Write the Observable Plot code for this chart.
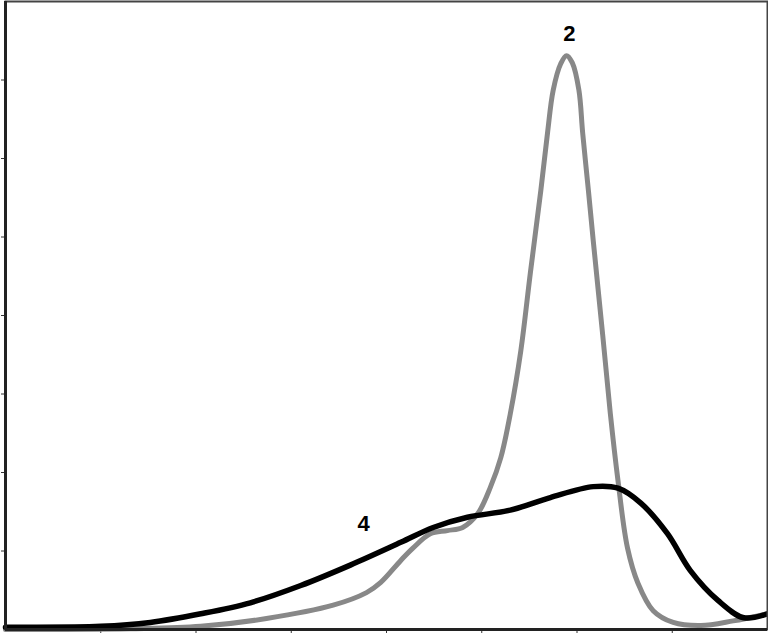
<!DOCTYPE html>
<html>
<head>
<meta charset="utf-8">
<script src="https://cdn.jsdelivr.net/npm/d3@7"></script>
<script src="https://cdn.jsdelivr.net/npm/@observablehq/plot@0.6"></script>
<style>
  html, body { margin: 0; padding: 0; background: #fff; }
  #chart { width: 768px; height: 633px; }
</style>
</head>
<body>
<div id="chart"></div>
<script>
// Series 2 (gray)
const x2 = [0, 1.31, 2.05, 2.74, 3.44, 3.79, 3.94, 4.15, 4.28, 4.46, 4.64, 4.80, 4.96, 5.09, 5.20, 5.30, 5.41, 5.51, 5.62, 5.69, 5.75, 5.83, 5.89, 5.95, 6.02, 6.06, 6.12, 6.17, 6.27, 6.35, 6.43, 6.53, 6.64, 6.80, 7.01, 7.30, 7.64, 8.0];
const y2 = [0.0, 0.01, 0.04, 0.14, 0.31, 0.47, 0.60, 0.88, 1.04, 1.22, 1.26, 1.30, 1.48, 1.81, 2.19, 2.75, 3.55, 4.54, 5.59, 6.32, 6.87, 7.21, 7.31, 7.22, 6.87, 6.32, 5.59, 4.96, 3.75, 2.75, 1.90, 1.04, 0.59, 0.24, 0.09, 0.05, 0.11, 0.20];
// Series 4 (black)
const x4 = [0, 1.0, 1.52, 2.05, 2.57, 3.10, 3.62, 4.15, 4.49, 4.85, 5.30, 5.72, 6.17, 6.43, 6.67, 6.95, 7.19, 7.48, 7.75, 8.0];
const y4 = [0.03, 0.04, 0.09, 0.20, 0.34, 0.56, 0.82, 1.11, 1.30, 1.43, 1.52, 1.68, 1.82, 1.80, 1.61, 1.22, 0.75, 0.37, 0.15, 0.20];
// Curve labels
const labels = ["2", "4"];
const labelX = [5.92, 3.76];
const labelY = [7.59, 1.34];
// Ticks
const xTicks = [1, 2, 3, 4, 5, 6, 7];
const yTicks = [1, 2, 3, 4, 5, 6, 7];

const s2 = x2.map((x, i) => ({x, y: y2[i]}));
const s4 = x4.map((x, i) => ({x, y: y4[i]}));
const lab = labels.map((t, i) => ({t, x: labelX[i], y: labelY[i]}));

const chart = Plot.plot({
  width: 768,
  height: 633,
  marginLeft: 5,
  marginRight: 1,
  marginTop: 1,
  marginBottom: 4,
  x: {domain: [0, 8]},
  y: {domain: [0, 8]},
  style: {background: "#fff", fontFamily: "Liberation Sans, Arial, sans-serif"},
  marks: [
    Plot.axisX({ticks: xTicks, tickSize: 4, tickFormat: () => "", label: null, stroke: "#333"}),
    Plot.axisY({ticks: yTicks, tickSize: 4, tickFormat: () => "", label: null, stroke: "#333"}),
    Plot.line(s2, {x: "x", y: "y", stroke: "#888888", strokeWidth: 5, curve: "catmull-rom"}),
    Plot.line(s4, {x: "x", y: "y", stroke: "#000000", strokeWidth: 5.5, curve: "catmull-rom"}),
    Plot.frame({stroke: "#444", strokeWidth: 2}),
    Plot.ruleX([0], {stroke: "#222", strokeWidth: 3}),
    Plot.ruleY([0], {stroke: "#222", strokeWidth: 3}),
    Plot.text(lab, {x: "x", y: "y", text: "t", fontSize: 22, fontWeight: "bold", fill: "#000", textAnchor: "middle", lineAnchor: "middle"})
  ]
});
document.getElementById("chart").appendChild(chart);
</script>
</body>
</html>
